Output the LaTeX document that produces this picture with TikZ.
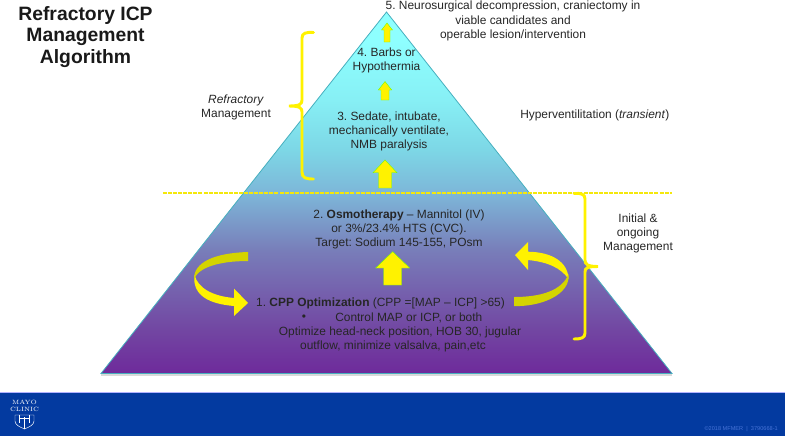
\documentclass[tikz,border=0pt]{standalone}
\usepackage{fontspec}
\setmainfont{Liberation Sans}
\definecolor{pyrA}{RGB}{110,42,155}
\definecolor{pyrB}{RGB}{114,70,162}
\definecolor{pyrC}{RGB}{120,125,185}
\definecolor{pyrD}{RGB}{125,180,215}
\definecolor{pyrE}{RGB}{125,215,230}
\definecolor{pyrF}{RGB}{135,240,245}
\definecolor{pyrG}{RGB}{142,255,255}
\definecolor{pyrEdge}{RGB}{70,175,190}
\definecolor{mayoBlue}{RGB}{3,58,160}
\definecolor{bandOlive}{RGB}{212,212,0}
\definecolor{stampBlue}{RGB}{70,115,215}
\pgfdeclareverticalshading{pyramid}{100bp}{color(0bp)=(pyrA); color(25bp)=(pyrA); color(31bp)=(pyrB); color(42bp)=(pyrC); color(49.5bp)=(pyrD); color(56bp)=(pyrE); color(63bp)=(pyrF); color(71bp)=(pyrG); color(100bp)=(pyrG)}
\tikzset{
  body/.style={inner sep=0pt,font=\fontsize{8.95}{10.75}\selectfont\frenchspacing,text=black!85,align=center},
  title/.style={inner sep=0pt,font=\fontsize{14.5}{15.8}\selectfont\bfseries,text=black!90,align=center},
  uparrow/.style={fill=yellow,draw=green!55!yellow,line width=0.3pt,line join=miter},
  bracket/.style={draw=yellow,line width=2.2pt,line cap=round},
  cut/.style={draw=yellow!95!black,line width=1pt,dash pattern=on 3pt off 0.8pt},
  logo/.style={draw=white,line width=0.35pt}
}
\begin{document}
\begin{tikzpicture}[x=0.75pt,y=0.75pt,yscale=-1,xscale=1]
\useasboundingbox (0,0) rectangle (785,437);

%footer band
\fill [mayoBlue] (0,392) rectangle (785,436);
\draw [blue!30!white,line width=0.4pt] (0,392) -- (785,392);

%pyramid
\draw [black!15,line width=1pt] (101,375) -- (672,375);
\path [shading=pyramid,draw=pyrEdge,line width=0.6pt] (386.5,12) -- (672,373.5) -- (101,373.5) -- cycle;

%dashed cut
\draw [cut] (163,193) -- (672,193);

%brackets
\draw [bracket] (313.5,32.5) .. controls (306,32) and (302,33) .. (302,38) -- (302,100) .. controls (302,104) and (300,106) .. (289,106) .. controls (300,106) and (302,108) .. (302,112) -- (302,172) .. controls (302,178) and (306,179) .. (313.5,179);
\draw [bracket] (574,193.5) .. controls (581,193) and (585,194) .. (585,199) -- (585,260) .. controls (585,264) and (587,266.5) .. (598,266.5) .. controls (587,266.5) and (585,268) .. (585,272) -- (585,333) .. controls (585,338) and (581,339) .. (574,339);

%up arrows
\draw [uparrow] (387,23) -- (392.5,30) -- (390,30) -- (390,42) -- (384,42) -- (384,30) -- (381.5,30) -- cycle;
\draw [uparrow] (385,81.5) -- (391.7,90) -- (389,90) -- (389,100) -- (381,100) -- (381,90) -- (378.3,90) -- cycle;
\draw [uparrow] (385,160) -- (397,172.7) -- (391.5,172.7) -- (391.5,188) -- (378.5,188) -- (378.5,172.7) -- (373,172.7) -- cycle;
\draw [uparrow] (392.7,251.7) -- (409.7,268) -- (401.7,268) -- (401.7,285) -- (383.7,285) -- (383.7,268) -- (375.7,268) -- cycle;

%left turn arrow
\fill [yellow] (194.5,275) .. controls (198,288) and (212,296) .. (234,298) -- (234,288.5) -- (248,303) -- (234,316) -- (234,306) .. controls (210,304) and (192,296) .. (194.5,275) -- cycle;
\fill [bandOlive] (248,252) .. controls (215,253) and (193,262) .. (194,280) .. controls (197,268) and (218,261) .. (248,261) -- cycle;

%right turn arrow
\fill [yellow] (515,255) -- (528,242) -- (528,251.7) .. controls (552,252) and (568,262) .. (568.5,279) .. controls (561,268) and (548,262) .. (528,260) -- (528,270) -- cycle;
\fill [bandOlive] (568.5,274) .. controls (571,295) and (540,307) .. (514,306) -- (514,297) .. controls (540,297) and (562,291) .. (568.5,274) -- cycle;

%texts
\node (ttl) [title] at (85.5,37) {Refractory ICP\\Management\\Algorithm};
\node (five) [body] at (513,21) {5. Neurosurgical decompression, craniectomy in\\viable candidates and\\operable lesion/intervention};
\node (four) [body] at (386.5,60.5) {4. Barbs or\\Hypothermia};
\node (three) [body] at (389,131.5) {3. Sedate, intubate,\\mechanically ventilate,\\NMB paralysis};
\node (two) [body] at (399,229.5) {2. \textbf{Osmotherapy} -- Mannitol (IV)\\or 3\%/23.4\% HTS (CVC).\\Target: Sodium 145-155, POsm};
\node (onea) [body] at (380.5,303.5) {1. \textbf{CPP Optimization} (CPP =[MAP -- ICP] >65)};
\node (oneb) [body] at (304,318) {•};
\node (onec) [body,anchor=west] at (335,318) {Control MAP or ICP, or both};
\node (oned) [body] at (400,332.5) {Optimize head-neck position, HOB 30, jugular};
\node (onee) [body] at (393,346.5) {outflow, minimize valsalva, pain,etc};
\node (refr) [body] at (236,107.5) {\textit{Refractory}\\Management};
\node (hyper) [body,anchor=west] at (520,115.5) {Hyperventilitation (\textit{transient})};
\node (init) [body] at (638,233.5) {Initial \&\\ongoing\\Management};

%logo
\node (mayo) [inner sep=0pt,text=white,align=center,font=\fontfamily{lmr}\selectfont\fontsize{4.6}{5.2}\selectfont] at (24.5,405.5) {MAYO\\CLINIC};
\draw [logo] (15,415) -- (34,415) -- (34,421) .. controls (34,425) and (29,427) .. (24.5,429) .. controls (20,427) and (15,425) .. (15,421) -- cycle;
\draw [logo] (19.5,415) -- (19.5,423) (29.5,415) -- (29.5,423) (24.5,417) -- (24.5,429) (19.5,418) -- (29.5,418);
\node (stamp) [inner sep=0pt,text=stampBlue,font=\fontsize{4.2}{5}\selectfont,anchor=east] at (778,429.5) {©2018 MFMER \ | \ 3790668-1};

\end{tikzpicture}
\end{document}
